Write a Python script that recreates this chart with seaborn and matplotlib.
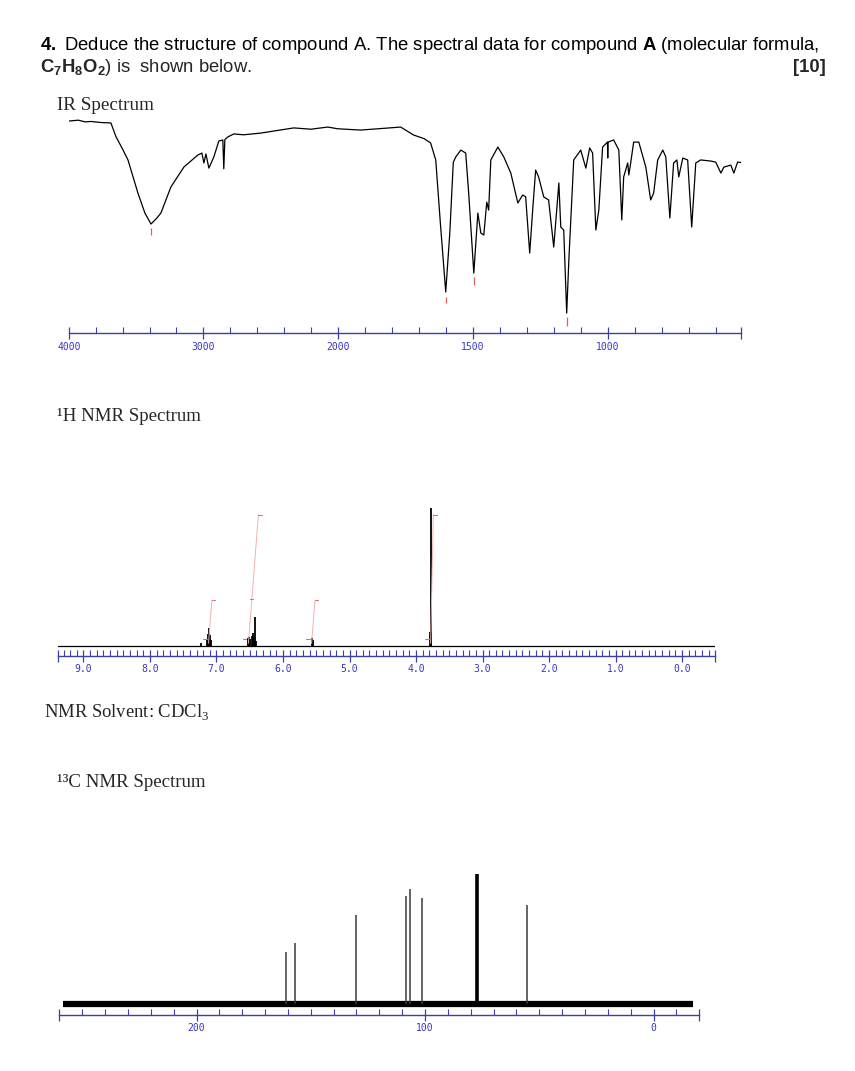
import matplotlib
matplotlib.use("Agg")
import numpy as np
import matplotlib.pyplot as plt
import seaborn as sns

# IR spectrum (wavenumber cm-1, %T)
ir_wavenumber = [4000, 3930, 3880, 3836, 3760, 3688, 3651, 3600, 3561, 3487, 3435, 3390, 3346, 3316,
                 3242, 3145, 3041, 3011, 2996, 2981, 2959, 2922, 2885, 2855, 2848, 2840, 2818, 2773,
                 2700, 2572, 2450, 2327, 2200, 2074, 2000, 1915, 1830, 1767, 1719, 1680, 1656, 1637,
                 1620, 1600, 1585, 1572, 1563, 1544, 1526, 1515, 1496, 1481, 1470, 1459, 1448, 1441,
                 1433, 1407, 1385, 1359, 1333, 1315, 1304, 1289, 1278, 1267, 1256, 1237, 1219, 1200,
                 1181, 1174, 1163, 1152, 1144, 1126, 1100, 1081, 1067, 1056, 1044, 1033, 1019, 1001,
                 1000, 999, 978, 959, 948, 941, 926, 922, 915, 904, 885, 859, 841, 830, 815, 796, 785,
                 770, 756, 744, 737, 722, 704, 689, 674, 656, 619, 600, 581, 570, 544, 533, 519, 505]
ir_transmittance = [97.2, 97.6, 96.8, 97.0, 96.5, 96.3, 90.0, 84.0, 79.1, 63.7, 54.4, 49.3, 52.1, 54.4,
                    66.5, 75.8, 81.4, 82.3, 77.7, 81.9, 75.3, 80.5, 87.9, 88.4, 75.0, 88.6, 89.8, 91.2,
                    90.8, 91.6, 92.8, 94.0, 93.4, 94.4, 93.6, 93.0, 93.8, 94.4, 90.7, 89.0, 87.0, 79.1,
                    50.0, 17.7, 45.0, 78.0, 80.5, 83.7, 82.3, 63.7, 26.5, 54.4, 45.1, 44.2, 59.5, 55.8,
                    79.1, 85.1, 80.5, 73.0, 59.1, 62.8, 62.0, 35.8, 55.8, 74.4, 71.2, 61.9, 60.5, 38.6,
                    68.4, 47.9, 46.5, 7.9, 32.6, 79.1, 83.7, 75.3, 84.7, 82.3, 46.5, 55.8, 85.1, 87.4,
                    80.0, 87.4, 88.4, 83.7, 51.2, 71.2, 77.7, 72.1, 77.7, 87.4, 87.4, 75.8, 60.5, 63.7,
                    79.1, 83.7, 80.5, 52.1, 77.7, 79.1, 71.2, 80.0, 79.1, 47.9, 77.7, 79.1, 78.6, 78.1,
                    73.0, 75.8, 76.7, 73.0, 78.1, 77.9]
ir_marked_peaks = [3390, 1600, 1496, 1152]
ir_mark_top = [47.4, 15.3, 24.7, 6.0]
ir_mark_bottom = [44.2, 12.6, 20.9, 1.9]
ir_major_ticks = [4000, 3000, 2000, 1500, 1000]
ir_minor_ticks = [3800, 3600, 3400, 3200, 2800, 2600, 2400, 2200,
                  1900, 1800, 1700, 1600, 1400, 1300, 1200, 1100, 900, 800, 700, 600]

# 1H NMR lines (ppm, intensity)
h_shift = [7.24, 7.15, 7.135, 7.12, 7.105, 7.09, 6.53, 6.515, 6.50, 6.47, 6.455, 6.44, 6.425, 6.41,
           5.565, 5.555, 3.785, 3.78, 3.775]
h_height = [3, 7, 12, 18, 11, 6, 8, 9, 7, 10, 13, 9, 29, 5, 8, 6, 14, 138, 14]
h_int_start = [7.12, 6.52, 5.57, 3.78]
h_int_end = [7.07, 6.37, 5.52, 3.74]
h_int_value = [1, 3, 1, 3]
h_major_ticks = [9.0, 8.0, 7.0, 6.0, 5.0, 4.0, 3.0, 2.0, 1.0, 0.0]

# 13C NMR lines (ppm, intensity)
c_shift = [161.0, 156.9, 130.3, 108.3, 106.6, 101.4, 77.2, 55.5]
c_height = [52, 61, 89, 108, 115, 106, 130, 99]
c_solvent = 77.2
c_baseline_range = [258.5, -17.3]
c_major_ticks = [200, 100, 0]

W, H = 855, 1071
blue = "#3d3fa8"
label_blue = "#3535c8"

sns.set_style("white")
plt.rcParams["font.family"] = ["Liberation Sans", "DejaVu Sans"]
plt.rcParams["mathtext.fontset"] = "custom"
plt.rcParams["mathtext.rm"] = "Liberation Serif"
plt.rcParams["mathtext.bf"] = "Liberation Sans:bold"


def px_box(left, top, right, bottom):
    return [left / W, 1 - bottom / H, (right - left) / W, (bottom - top) / H]


def style_axis(ax, major, labels, minor, end_ticks):
    for side in ["top", "left", "right"]:
        ax.spines[side].set_visible(False)
    ax.spines["bottom"].set_color(blue)
    ax.spines["bottom"].set_linewidth(1.0)
    ax.set_yticks([])
    ax.set_xticks(list(major) + list(end_ticks), list(labels) + [""] * len(end_ticks),
                  fontfamily="DejaVu Sans Mono", fontsize=7)
    ax.set_xticks(minor, minor=True)
    ax.tick_params(axis="x", which="both", bottom=True)
    ax.tick_params(axis="x", which="major", direction="inout", length=9, width=0.9,
                   color=blue, labelcolor=label_blue, pad=1.5)
    ax.tick_params(axis="x", which="minor", direction="in", length=4, width=0.8, color=blue)
    ax.set_xlabel("")
    ax.set_ylabel("")
    ax.patch.set_alpha(0)


fig = plt.figure(figsize=(W / 100, H / 100), dpi=100)

# header text
fig.text(40 / W, 1 - 50 / H,
         r"$\mathbf{4.}$ Deduce the structure of compound A. The spectral data for compound "
         r"$\mathbf{A}$ (molecular formula,", fontsize=13.3, color="black")
fig.text(40 / W, 1 - 72 / H, r"$\mathbf{C_7H_8O_2}$) is  shown below.", fontsize=13.3)
fig.text(826 / W, 1 - 72 / H, "[10]", fontsize=13.3, fontweight="bold", ha="right")

serif = ["Liberation Serif", "DejaVu Serif"]
fig.text(57 / W, 1 - 110 / H, "IR Spectrum", fontsize=13.8, family=serif)
fig.text(57 / W, 1 - 421 / H, "\u00b9H NMR Spectrum", fontsize=13.6, family=serif)
fig.text(44 / W, 1 - 718 / H, r"NMR Solvent: CDCl$_\mathrm{3}$", fontsize=13.4, family=serif)
fig.text(57 / W, 1 - 787 / H, "\u00b9\u00b3C NMR Spectrum", fontsize=13.6, family=serif)

# ---- IR ----
def ir_fwd(wn):
    wn = np.asarray(wn, dtype=float)
    return np.where(wn >= 2000, (wn - 2000) * 0.13435, (wn - 2000) * 0.27)


def ir_inv(u):
    u = np.asarray(u, dtype=float)
    return np.where(u >= 0, 2000 + u / 0.13435, 2000 + u / 0.27)


ax_ir = fig.add_axes(px_box(69, 112, 741.4, 333.3))
ax_ir.set_xscale("function", functions=(ir_fwd, ir_inv))
sns.lineplot(x=ir_wavenumber, y=ir_transmittance, ax=ax_ir, color="black", lw=0.9,
             estimator=None, sort=False)
ax_ir.vlines(ir_marked_peaks, ir_mark_bottom, ir_mark_top, color="#e06060", lw=0.9)
ax_ir.set_xlim(4000, 505)
ax_ir.set_ylim(-1.5, 101.4)
style_axis(ax_ir, ir_major_ticks, [str(t) for t in ir_major_ticks], ir_minor_ticks, [505])

# ---- 1H NMR ----
ax_h = fig.add_axes(px_box(58.2, 500, 715.3, 656))
ax_h.axhline(0, color="black", lw=0.9)
ax_h.vlines(h_shift, 0, h_height, color="black", lw=1.3)
per_h = 42.8
for s0, s1, n in zip(h_int_start, h_int_end, h_int_value):
    ax_h.plot([s0, s1], [2.7, 2.7 + n * per_h], color="#f4b0b0", lw=0.7)
    ax_h.plot([s1, s1 - 0.05], [3 + n * per_h] * 2, color="#e07070", lw=0.8)
    ax_h.plot([s0 + 0.08, s0 + 0.03], [7, 7], color="#e07070", lw=0.8)
ax_h.plot([6.50, 6.45], [46.7, 46.7], color="#e07070", lw=0.8)
ax_h.set_xlim(9.38, -0.5)
ax_h.set_ylim(-10, 146)
h_minor = [round(v, 1) for v in np.arange(-0.4, 9.35, 0.1)]
style_axis(ax_h, h_major_ticks, [f"{t:.1f}" for t in h_major_ticks], h_minor, [9.38, -0.5])

# ---- 13C NMR ----
ax_c = fig.add_axes(px_box(59.4, 860, 699.2, 1015))
sns.lineplot(x=c_baseline_range, y=[0, 0], ax=ax_c, color="black", lw=4.5,
             estimator=None, sort=False, solid_capstyle="butt")
widths = [2.6 if s == c_solvent else 1.1 for s in c_shift]
colors = ["black" if s == c_solvent else "#3a3a3a" for s in c_shift]
ax_c.vlines(c_shift, 0, c_height, colors=colors, lw=widths)
ax_c.set_xlim(260, -20)
ax_c.set_ylim(-11, 144)
c_minor = list(range(-10, 260, 10))
style_axis(ax_c, c_major_ticks, [str(t) for t in c_major_ticks], c_minor, [260, -20])

fig.savefig("out.png", dpi=100, facecolor="white")
